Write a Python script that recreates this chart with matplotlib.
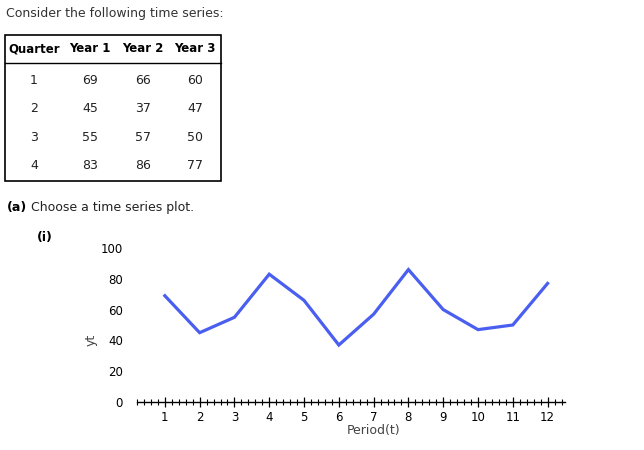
import numpy as np
import matplotlib.pyplot as plt
from matplotlib.patches import Rectangle
from matplotlib.lines import Line2D
from matplotlib.ticker import MultipleLocator

quarters = [1, 2, 3, 4]
year1 = [69, 45, 55, 83]
year2 = [66, 37, 57, 86]
year3 = [60, 47, 50, 77]
header = ['Quarter', 'Year 1', 'Year 2', 'Year 3']

values = year1 + year2 + year3
periods = list(range(1, len(values) + 1))

W, H = 644, 450
fig = plt.figure(figsize=(W / 100, H / 100), dpi=100)


def fx(px):
    return px / W


def fy(py):
    return 1 - py / H


fs = 9
fig.text(fx(6), fy(13), 'Consider the following time series:', fontsize=fs,
         color='#333333', va='center', ha='left')

# table
fig.patches.append(Rectangle((fx(5), fy(181)), fx(221) - fx(5), fy(35) - fy(181),
                             transform=fig.transFigure, fill=False, lw=1.2, ec='black'))
fig.lines.append(Line2D([fx(5), fx(221)], [fy(63), fy(63)], transform=fig.transFigure,
                        color='black', lw=1.0))
col_x = [34, 90, 143, 195]
for cx, h in zip(col_x, header):
    fig.text(fx(cx), fy(49), h, fontsize=8.5, fontweight='bold', ha='center', va='center')
row_y = [80, 108, 137, 166]
for i, ry in enumerate(row_y):
    row = [quarters[i], year1[i], year2[i], year3[i]]
    for cx, v in zip(col_x, row):
        fig.text(fx(cx), fy(ry), str(v), fontsize=fs, ha='center', va='center', color='#222222')

fig.text(fx(7), fy(208), '(a)', fontsize=fs, fontweight='bold', va='center')
fig.text(fx(31), fy(208), 'Choose a time series plot.', fontsize=fs, va='center', color='#222222')
fig.text(fx(37), fy(238), '(i)', fontsize=fs, fontweight='bold', va='center')

# chart
ax = fig.add_axes([fx(137), fy(402), fx(565) - fx(137), fy(248) - fy(402)])
ax.plot(periods, values, color='#4a5ff0', lw=2.3, clip_on=False, solid_joinstyle='miter')
ax.set_xlim(0.2, 12.5)
ax.set_ylim(0, 100)
for s in ['top', 'right', 'left']:
    ax.spines[s].set_visible(False)
ax.spines['bottom'].set_linewidth(1.0)
ax.xaxis.set_minor_locator(MultipleLocator(0.2))
ax.set_xticks(periods)
ax.tick_params(axis='x', which='major', direction='inout', length=7, width=0.9,
               labelsize=8.5, pad=3, colors='black')
ax.tick_params(axis='x', which='minor', direction='inout', length=4, width=0.8)
ax.set_yticks([0, 20, 40, 60, 80, 100])
ax.tick_params(axis='y', length=0, pad=10, labelsize=8.5)
ax.set_xlabel('Period(t)', fontsize=9, color='#444444')
ax.xaxis.set_label_coords((374 - 137) / 428, -(424 - 402) / 154)
ax.set_ylabel('yt', fontsize=9, color='#444444')
ax.yaxis.set_label_coords(-(137 - 98) / 428, (402 - 340) / 154)
ax.patch.set_alpha(0)

fig.savefig('out.png', dpi=100)
